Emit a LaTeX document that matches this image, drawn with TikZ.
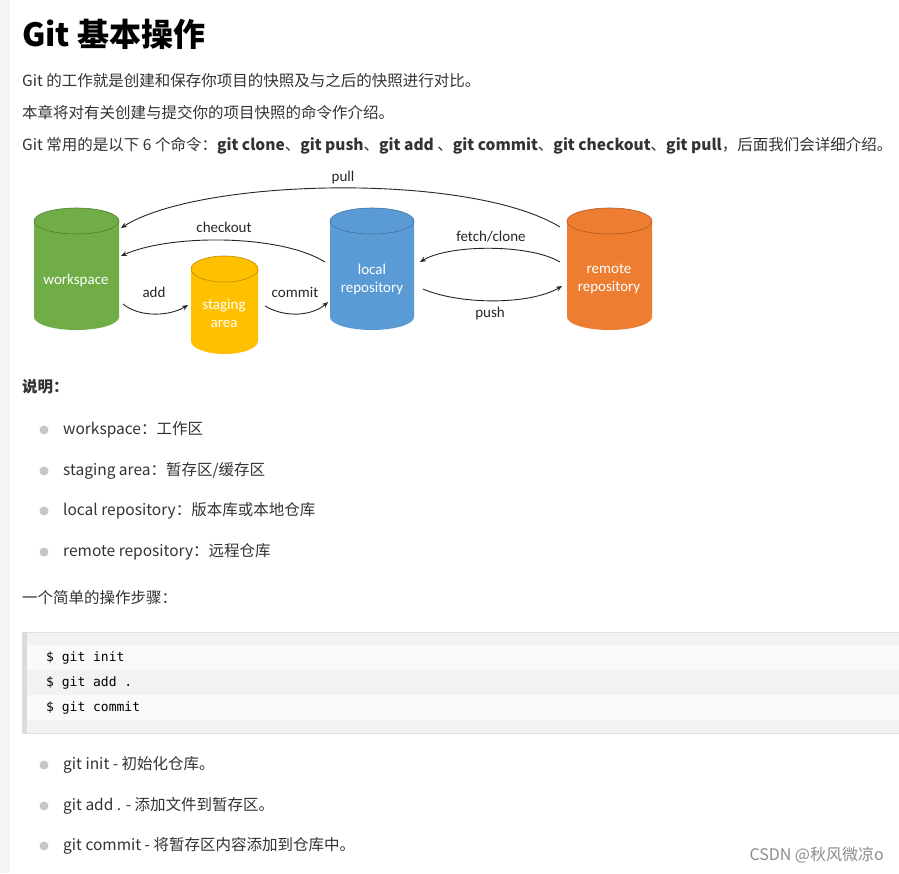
\documentclass[tikz,border=0pt]{standalone}
\usepackage{fontspec}
\usetikzlibrary{arrows.meta}
\setmainfont{Liberation Sans}
\newfontfamily\cjk{Noto Sans CJK SC}
\newfontfamily\monof{DejaVu Sans Mono}
\newfontfamily\carl{Carlito}
\definecolor{txt}{HTML}{333333}
\definecolor{gA}{HTML}{70AD47}\definecolor{gB}{HTML}{507E32}
\definecolor{yA}{HTML}{FFC000}\definecolor{yB}{HTML}{BC8C00}
\definecolor{bA}{HTML}{5B9BD5}\definecolor{bB}{HTML}{41719C}
\definecolor{oA}{HTML}{ED7D31}\definecolor{oB}{HTML}{AE5A21}
\begin{document}
\begin{tikzpicture}[x=1pt,y=-1pt,
  txtline/.style={anchor=west,inner sep=0pt,text=txt,font=\cjk\fontsize{15.5}{18}\selectfont},
  dot/.style={circle,fill=black!22,inner sep=0pt,minimum size=9pt},
  arr/.style={-{Stealth[length=6pt,width=5pt]},line width=0.9pt,black!85},
  lab/.style={font=\carl\fontsize{15}{17}\selectfont,text=black!85,inner sep=0pt},
  cyllab/.style={font=\carl\fontsize{15}{18}\selectfont,text=white,align=center,inner sep=0pt}]
\useasboundingbox (0,0) rectangle (899,873);
\fill[white] (0,0) rectangle (899,873);
\fill[black!4] (0,0) rectangle (10,873);
% text
\node[txtline,font=\cjk\bfseries\fontsize{32}{36}\selectfont,text=black] (title) at (22,34) {Git 基本操作};
\node[txtline] (l1) at (22,81) {Git 的工作就是创建和保存你项目的快照及与之后的快照进行对比。};
\node[txtline] (l2) at (22,113) {本章将对有关创建与提交你的项目快照的命令作介绍。};
\node[txtline] (l3) at (22,146) {Git 常用的是以下 6 个命令：\textbf{git clone}、\textbf{git push}、\textbf{git add} 、\textbf{git commit}、\textbf{git checkout}、\textbf{git pull}，后面我们会详细介绍。};
% cylinders
\newcommand\cylin[7]{% name, x1, x2, top, bottom, fill, stroke
  \fill[#6] (#2,#4) -- (#2,#5) arc[start angle=180,end angle=0,x radius={(#3-#2)/2},y radius=13] -- (#3,#4) -- cycle;
  \filldraw[fill=#6,draw=#7,line width=0.6pt] ({(#2+#3)/2},#4) ellipse[x radius={(#3-#2)/2},y radius=13];
  \coordinate (#1) at ({(#2+#3)/2},{(#4+#5)/2});}
\cylin{ws}{34}{119}{221}{317}{gA}{gB}
\cylin{st}{191}{258}{269}{341}{yA}{yB}
\cylin{lr}{330}{414}{221}{317}{bA}{bB}
\cylin{rr}{567}{652}{221}{317}{oA}{oB}
\node[cyllab] (wsl) at (76,280) {workspace};
\node[cyllab] (stl) at (224,313) {staging\\area};
\node[cyllab] (lrl) at (372,279) {local\\repository};
\node[cyllab] (rrl) at (609,279) {remote\\repository};
% arrows
\draw[arr] (560,227) .. controls (470,172) and (200,178) .. (121,228);
\node[lab] (pull) at (343,177) {pull};
\draw[arr] (325,262) .. controls (280,234) and (170,234) .. (121,256);
\node[lab] (co) at (224,227) {checkout};
\draw[arr] (560,262) .. controls (530,244) and (450,244) .. (420,262);
\node[lab] (fc) at (491,237) {fetch/clone};
\draw[arr] (423,289) .. controls (460,305) and (530,305) .. (562,286);
\node[lab] (push) at (490,313) {push};
\draw[arr] (123,304) .. controls (140,318) and (170,316) .. (188,305);
\node[lab] (add) at (154,292) {add};
\draw[arr] (265,306) .. controls (285,318) and (312,316) .. (328,302);
\node[lab] (cm) at (295,292) {commit};
% explanation
\node[txtline,font=\cjk\bfseries\fontsize{15.5}{18}\selectfont] (sm) at (22,387) {说明：};
\foreach \y/\t [count=\i] in {430/{workspace：工作区},471/{staging area：暂存区/缓存区},511/{local repository：版本库或本地仓库},552/{remote repository：远程仓库}}{
  \node[dot] (d\i) at (44,\y) {};
  \node[txtline] (b\i) at (63,\y) {\t};}
\node[txtline] (steps) at (22,598) {一个简单的操作步骤：};
% code block
\fill[black!5] (22,632) rectangle (899,733);
\draw[black!12,line width=1pt] (899,632) -- (22,632) -- (22,733) -- (899,733);
\fill[black!14] (22,632) rectangle (27,733);
\fill[black!2] (27,645) rectangle (899,670);
\fill[black!5] (27,670) rectangle (899,695);
\fill[black!2] (27,695) rectangle (899,720);
\foreach \y/\t [count=\i] in {658/\$ git init,683/\$ git add .,708/\$ git commit}{
  \node[txtline,font=\monof\fontsize{13}{15}\selectfont,text=black] (c\i) at (46,\y) {\t};}
\foreach \y/\t [count=\i] in {765/git init - 初始化仓库。,806/git add . - 添加文件到暂存区。,846/git commit - 将暂存区内容添加到仓库中。}{
  \node[dot] (e\i) at (44,\y) {};
  \node[txtline] (f\i) at (63,\y) {\t};}
\node[anchor=east,inner sep=0pt,text=black!45,font=\cjk\fontsize{16}{18}\selectfont] (wm) at (884,855) {CSDN @秋风微凉o};
\end{tikzpicture}
\end{document}
